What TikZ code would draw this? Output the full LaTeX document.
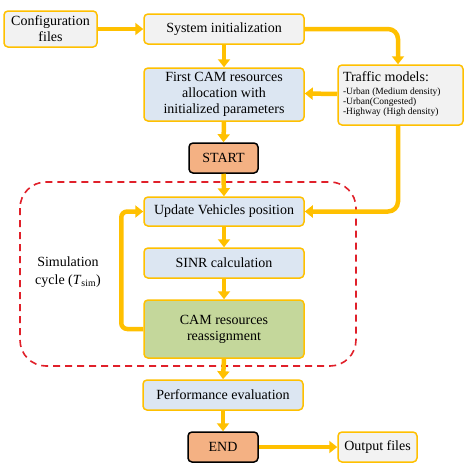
\documentclass[tikz,border=0pt]{standalone}
\usepackage{fontspec}
\setmainfont{Liberation Serif}
\usetikzlibrary{arrows.meta}
\definecolor{arr}{HTML}{FFC000}
\definecolor{gfill}{HTML}{F2F2F2}
\definecolor{bfill}{HTML}{DCE6F2}
\definecolor{ofill}{HTML}{F4B183}
\definecolor{grfill}{HTML}{C4D79B}
\definecolor{dred}{HTML}{E0202A}
\tikzset{
  box/.style={draw=arr, line width=1.5pt, rounded corners=4pt, align=center,
    inner sep=2pt, font=\fontsize{14}{16}\selectfont, text=black},
  graybox/.style={box, fill=gfill},
  bluebox/.style={box, fill=bfill},
  greenbox/.style={box, fill=grfill},
  termbox/.style={box, draw=black, fill=ofill},
  flow/.style={draw=arr, line width=4.5pt, -{Triangle[width=12pt,length=8pt]}},
}
\newcommand{\smallline}[1]{{\fontsize{9.5}{9.8}\selectfont #1}}
\begin{document}
\begin{tikzpicture}[x=1pt, y=-1pt]
\useasboundingbox (0,0) rectangle (474,474);
% dashed simulation cycle frame
\draw[dred, line width=1.6pt, dash pattern=on 7pt off 5pt, rounded corners=26pt]
  (20,182) rectangle (356,366);
\node[font=\fontsize{14}{18}\selectfont, align=center] (simlabel) at (68,272)
  {Simulation\\cycle (\textit{T}\textsubscript{sim})};

\node[graybox, minimum width=93pt, minimum height=36pt] (cfg) at (50.5,29) {Configuration\\files};
\node[graybox, minimum width=160pt, minimum height=30pt] (sys) at (224,29) {System initialization};
\node[bluebox, minimum width=160pt, minimum height=53pt] (first) at (224,94.5)
  {First CAM resources\\allocation with\\initialized parameters};
\node[graybox, minimum width=125pt, minimum height=60pt, inner xsep=5pt] (traffic) at (400.5,95)
  {\makebox[115pt][l]{\begin{tabular}{@{}l@{}}
   Traffic models:\\[-3pt]
   \smallline{-Urban (Medium density)}\\[-6pt]
   \smallline{-Urban(Congested)}\\[-6pt]
   \smallline{-Highway (High density)}
   \end{tabular}}};
\node[termbox, minimum width=69pt, minimum height=30pt] (start) at (223.5,158) {START};
\node[bluebox, minimum width=160pt, minimum height=29pt] (upd) at (224,211.5) {Update Vehicles position};
\node[bluebox, minimum width=160pt, minimum height=30pt] (sinr) at (224,263) {SINR calculation};
\node[greenbox, minimum width=160pt, minimum height=58pt] (cam) at (224,329) {CAM resources\\reassignment};
\node[bluebox, minimum width=160pt, minimum height=30pt] (perf) at (223,395) {Performance evaluation};
\node[termbox, minimum width=70pt, minimum height=30pt] (end) at (223,447) {END};
\node[graybox, minimum width=79pt, minimum height=30pt] (out) at (377.5,447) {Output files};

\draw[flow] (cfg.east) -- (sys.west);
\draw[flow, rounded corners=10pt] (sys.east) -| ([xshift=-2.5pt]traffic.north);
\draw[flow] (sys.south) -- (first.north);
\draw[flow] ([yshift=1pt]traffic.west) -- ([yshift=1pt]first.east);
\draw[flow] (first.south) -- (start.north);
\draw[flow] (start.south) -- (upd.north);
\draw[flow, rounded corners=10pt] ([xshift=-2.5pt]traffic.south) |- (upd.east);
\draw[flow] (upd.south) -- (sinr.north);
\draw[flow] (sinr.south) -- (cam.north);
\draw[flow, rounded corners=6pt] (cam.west) -- ++(-22,0) |- (upd.west);
\draw[flow] (cam.south) -- (perf.north);
\draw[flow] (perf.south) -- (end.north);
\draw[flow] (end.east) -- (out.west);
\end{tikzpicture}
\end{document}
